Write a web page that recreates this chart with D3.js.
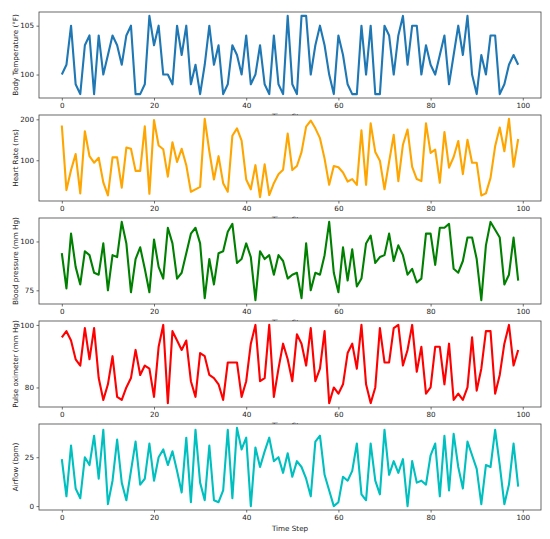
<!DOCTYPE html>
<html>
<head>
<meta charset="utf-8">
<script src="https://cdn.jsdelivr.net/npm/d3@7"></script>
<style>
html,body{margin:0;padding:0;background:#fff;}
svg{display:block;}
text{font-family:"DejaVu Sans",sans-serif;}
</style>
</head>
<body>
<svg id="chart" width="550" height="539"></svg>
<script>
const timeSteps = d3.range(100);

const bodyTemperature = [100,101,105,99,98,103,104,98,104,100,102,104,103,101,104,105,98,98,99,106,
103,105,100,100,99,105,102,105,99,101,98,101,105,101,103,98,99,103,102,100,
104,99,100,103,99,98,104,99,98,106,99,98,106,106,100,103,105,103,100,98,
104,102,99,98,98,105,100,105,98,98,105,104,100,104,106,101,105,105,100,103,
101,100,102,104,99,102,105,102,106,100,98,102,100,104,104,98,99,101,102,101];

const heartRate = [185,27,76,115,19,171,110,94,106,46,14,107,107,33,131,128,74,74,183,18,
198,136,127,60,144,96,128,88,23,29,35,201,122,53,110,44,23,160,178,148,
53,29,88,10,90,15,44,66,77,165,76,86,120,182,197,178,154,104,40,86,
83,70,48,54,40,173,40,190,120,99,29,96,162,49,138,175,84,54,49,190,
118,126,45,169,82,108,147,66,150,94,94,14,19,57,134,180,122,201,84,152];

const bloodPressure = [94,76,104,87,78,95,93,84,83,99,75,93,92,110,99,74,91,97,86,74,
101,87,81,107,99,81,84,94,104,107,99,71,91,78,94,95,105,109,89,91,
99,92,70,95,91,93,83,93,90,81,83,84,71,99,75,84,83,93,110,84,
74,97,80,96,77,81,99,103,89,92,93,104,90,98,93,83,86,79,81,104,
104,88,107,107,109,86,84,90,102,102,91,70,98,110,106,102,78,83,102,80];

const pulseOximeter = [96,98,95,89,87,99,89,99,83,76,81,90,77,76,80,83,92,84,87,86,
77,93,100,75,98,95,92,95,82,77,91,90,84,83,81,76,88,88,88,77,
82,94,100,82,83,100,77,86,94,89,82,97,94,87,99,82,86,98,75,80,
78,81,91,94,86,100,81,75,80,99,88,88,99,100,87,92,100,85,93,78,
80,93,93,81,94,76,78,76,80,96,79,86,98,98,78,84,94,100,87,92];

const airflow = [24,5,31,9,4,25,21,36,14,39,1,13,34,12,3,18,33,11,14,32,
13,25,29,21,28,18,7,35,2,39,12,3,31,3,2,8,39,4,40,29,
35,0,30,20,28,35,23,25,17,27,15,23,20,14,5,33,36,16,8,0,
2,15,13,18,32,6,3,32,13,6,39,16,23,17,24,0,23,12,13,11,
26,32,5,36,8,37,20,9,33,26,19,1,21,20,39,21,1,11,32,10];

const panelLabels = ["Body Temperature (°F)","Heart Rate (ms)","Blood pressure (mm Hg)","Pulse oximeter (mm Hg)","Airflow (bpm)"];
const panelColors = ["#1f77b4","#ffa500","#008000","#ff0000","#00bfbf"];
const panelYTicks = [[100,105],[100,200],[75,100],[80,100],[0,25]];
const xTicks = [0,20,40,60,80,100];
const xLabel = "Time Step";

const seriesList = [bodyTemperature, heartRate, bloodPressure, pulseOximeter, airflow];

const svg = d3.select("#chart");
const left = 39, right = 541, panelH = 86, panelTops = [12,115,218,321,424];
const fs = 7.2;

const x = d3.scaleLinear().domain([-4.95, 103.95]).range([left, right]);

seriesList.forEach((vals, k) => {
  const top = panelTops[k];
  const mn = d3.min(vals), mx = d3.max(vals), pad = (mx - mn) * 0.05;
  const y = d3.scaleLinear().domain([mn - pad, mx + pad]).range([top + panelH, top]);
  const g = svg.append("g");
  // background covers previous panel's x label (as in matplotlib)
  g.append("rect").attr("x", left).attr("y", top).attr("width", right-left).attr("height", panelH).attr("fill", "#fff");

  const line = d3.line().x((d,i) => x(timeSteps[i])).y(d => y(d));
  g.append("path").datum(vals).attr("d", line).attr("fill","none")
    .attr("stroke", panelColors[k]).attr("stroke-width", 2.1).attr("stroke-linejoin","round");

  const xa = g.append("g").attr("transform", `translate(0,${top+panelH})`)
    .call(d3.axisBottom(x).tickValues(xTicks).tickSize(2.5).tickPadding(2.5).tickFormat(d3.format("d")));
  const ya = g.append("g").attr("transform", `translate(${left},0)`)
    .call(d3.axisLeft(y).tickValues(panelYTicks[k]).tickSize(2.5).tickPadding(2.5).tickFormat(d3.format("d")));
  [xa, ya].forEach(a => {
    a.select(".domain").remove();
    a.selectAll("line").attr("stroke","#333").attr("stroke-width",0.7);
    a.selectAll("text").attr("font-size", fs).attr("fill","#222").attr("font-family","DejaVu Sans");
  });
  g.append("rect").attr("x", left).attr("y", top).attr("width", right-left).attr("height", panelH)
    .attr("fill","none").attr("stroke","#444").attr("stroke-width",0.8);

  g.append("text").attr("transform", `translate(16,${top+panelH/2}) rotate(-90)`)
    .attr("text-anchor","middle").attr("dominant-baseline","middle")
    .attr("font-size", fs).attr("fill","#222").text(panelLabels[k]);

  g.append("text").attr("x", (left+right)/2).attr("y", top+panelH+19)
    .attr("text-anchor","middle").attr("dominant-baseline","middle")
    .attr("font-size", fs).attr("fill","#222").text(xLabel);
});
</script>
</body>
</html>
